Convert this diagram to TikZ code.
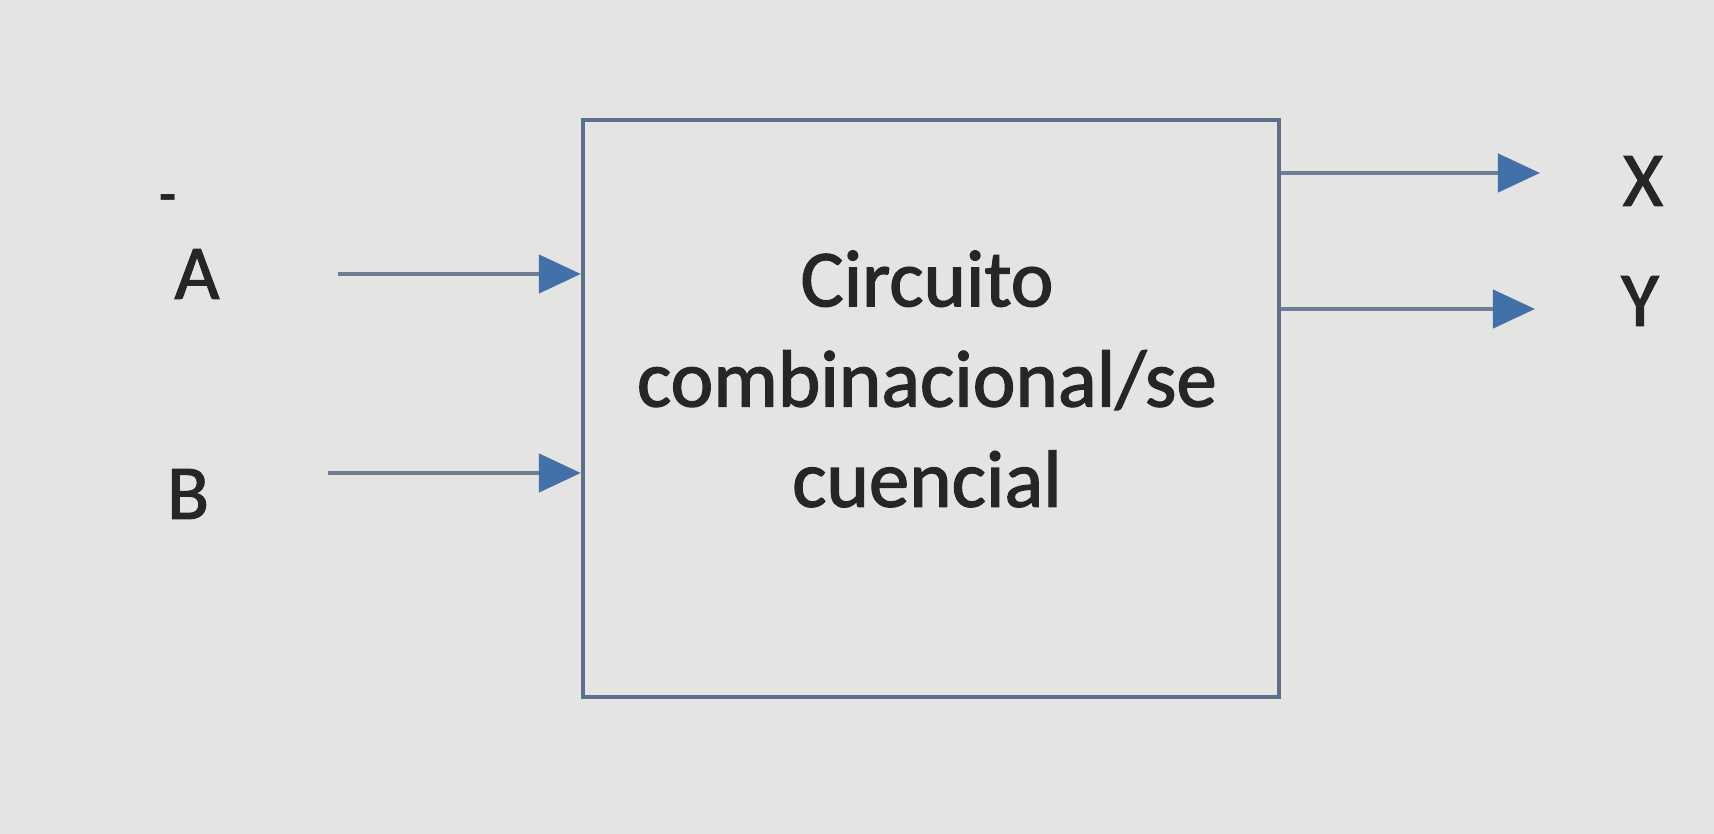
\documentclass[tikz,border=0pt]{standalone}
\usepackage{fontspec}
\setmainfont{Carlito}
\newfontfamily\heavyfont[FakeBold=1.6]{Carlito}
\usetikzlibrary{arrows.meta}
\definecolor{bgc}{RGB}{228,228,226}
\definecolor{boxc}{RGB}{92,112,140}
\definecolor{shaftc}{RGB}{110,125,148}
\definecolor{headc}{RGB}{66,112,168}
\definecolor{txtc}{RGB}{38,38,38}
\tikzset{
  blockbox/.style={draw=boxc, line width=1.1pt, minimum width=6.96cm, minimum height=5.77cm, inner sep=0pt},
  sig/.style={draw=shaftc, line width=1.3pt, -{Triangle[length=0.42cm,width=0.38cm,color=headc]}},
  lbl/.style={text=txtc, font=\heavyfont\fontsize{22}{24}\selectfont, inner sep=0pt},
  inner/.style={text=txtc, font=\heavyfont\fontsize{23}{28.5}\selectfont, align=center, inner sep=0pt}
}
\begin{document}
\begin{tikzpicture}[x=0.01cm,y=-0.01cm]
\fill[bgc] (0,0) rectangle (1714,834);
\useasboundingbox (0,0) rectangle (1714,834);
\node[blockbox] (box) at (931,408.5) {};
\node[inner] (boxtext) at (927,379) {Circuito\\combinacional/se\\cuencial};
\node[lbl] (la) at (197,274) {A};
\node[lbl] (lb) at (188,494) {B};
\node[lbl] (lx) at (1643,181) {X};
\node[lbl] (ly) at (1640,301) {Y};
\node[lbl, font=\fontsize{16}{18}\selectfont\bfseries] (dash) at (168,204) {-};
\coordinate (as) at (338,274);
\coordinate (bs) at (328,473);
\coordinate (xe) at (1540,173);
\coordinate (ye) at (1535,309);
\draw[sig] (as) -- (box.west |- as);
\draw[sig] (bs) -- (box.west |- bs);
\draw[sig] (box.east |- xe) -- (xe);
\draw[sig] (box.east |- ye) -- (ye);
\end{tikzpicture}
\end{document}
